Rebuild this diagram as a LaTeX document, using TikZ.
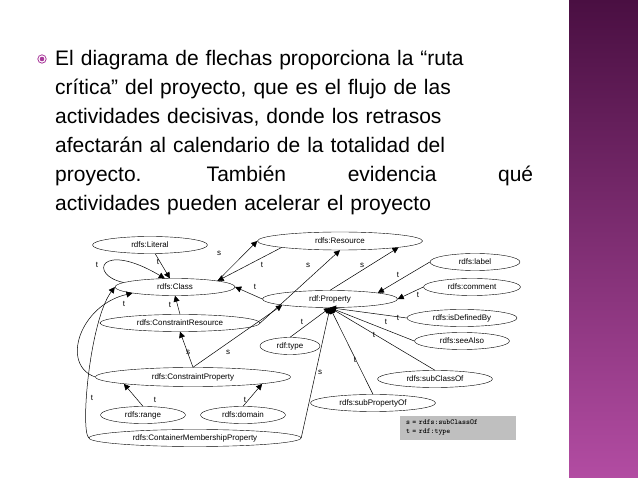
\documentclass[tikz,border=0pt]{standalone}
\usepackage{fontspec}
\setmainfont{Liberation Sans}
\usetikzlibrary{arrows.meta,shapes.geometric}
\definecolor{barTop}{HTML}{4A0F42}
\definecolor{barBot}{HTML}{B24CA2}
\definecolor{bul}{HTML}{A8389A}
\newcommand{\jl}[1]{\makebox[478pt][s]{#1}\par}
\tikzset{
  ell/.style={draw,ellipse,inner sep=0pt,font=\fontsize{8}{9}\selectfont,minimum height=17pt},
  con/.style={-{Triangle[length=6pt,width=6pt]},line width=0.5pt},
  lab/.style={font=\fontsize{8}{9}\selectfont,inner sep=0pt}
}
\begin{document}
\begin{tikzpicture}[x=1pt,y=-1pt]
\useasboundingbox (0,0) rectangle (638,478);
\shade[top color=barTop,bottom color=barBot] (569,0) rectangle (638,478);
\draw[bul,line width=0.8pt] (42,59) circle (4.2);
\fill[bul] (42,59) circle (2.3);
\node[anchor=north west,inner sep=0pt,text width=478pt,align=left,font=\fontsize{21}{29}\selectfont] (txt) at (55,50)
{\jl{El diagrama de flechas proporciona la “ruta}
\jl{crítica” del proyecto, que es el flujo de las}
\jl{actividades decisivas, donde los retrasos}
\jl{afectarán al calendario de la totalidad del}
\jl{proyecto. \hfill También \hfill evidencia \hfill qué}
actividades pueden acelerar el proyecto};
\node[ell,minimum width=115pt] (lit) at (150,245) {rdfs:Literal};
\node[ell,minimum width=165pt,minimum height=18pt] (res) at (340,241) {rdfs:Resource};
\node[ell,minimum width=120pt] (cls) at (175,287) {rdfs:Class};
\node[ell,minimum width=90pt] (lbl) at (475,262) {rdfs:label};
\node[ell,minimum width=97pt] (com) at (472,287) {rdfs:comment};
\node[ell,minimum width=135pt] (prop) at (330,299) {rdf:Property};
\node[ell,minimum width=160pt] (cr) at (180,323) {rdfs:ConstraintResource};
\node[ell,minimum width=60pt] (typ) at (290,346) {rdf:type};
\node[ell,minimum width=110pt] (idb) at (462,318) {rdfs:isDefinedBy};
\node[ell,minimum width=95pt] (see) at (462,341) {rdfs:seeAlso};
\node[ell,minimum width=195pt,minimum height=19pt] (cp) at (193,377) {rdfs:ConstraintProperty};
\node[ell,minimum width=115pt] (sco) at (435,379) {rdfs:subClassOf};
\node[ell,minimum width=125pt] (spo) at (373,403) {rdfs:subPropertyOf};
\node[ell,minimum width=85pt] (rng) at (143,415) {rdfs:range};
\node[ell,minimum width=85pt] (dom) at (243,415) {rdfs:domain};
\node[ell,minimum width=212pt] (cmp) at (195,438) {rdfs:ContainerMembershipProperty};
\node[fill=black!25,minimum width=116pt,minimum height=24pt,font=\ttfamily\fontsize{7.5}{9}\selectfont\bfseries,align=left,text width=104pt] (leg) at (458,428) {s = rdfs:subClassOf\\t = rdf:type};
% edges
\draw[con] (lit) -- (cls);
\draw[con] (cls.175) .. controls (88,275) and (100,240) .. (cls.140);
\draw[con] (cls.north east) -- (res.west);
\draw[con] (res.south west) -- (cls.north east);
\draw[con] (prop.west) -- (cls.east);
\draw[con] (cr.north) -- (cls.south);
\draw[con] (cr.east) -- (res.south);
\draw[con] (cp.north) -- (cr.south);
\draw[con] (cp.north) -- (prop.south west);
\draw[con] (cp.west) .. controls (60,365) and (80,305) .. (cls.south west);
\draw[con] (cmp.west) .. controls (80,430) and (90,320) .. (cls.west);
\draw[con] (prop.north) -- (res.south east);
\draw[con] (lbl.west) -- (prop.north east);
\draw[con] (com.west) -- (prop.east);
\draw[con] (idb.west) -- (prop.south);
\draw[con] (see.west) -- (prop.south);
\draw[con] (sco.north) -- (prop.south);
\draw[con] (spo.north) -- (prop.south);
\draw[con] (typ.north) -- (prop.south);
\draw[con] (cmp.east) -- (prop.south);
\draw[con] (rng.north) -- (cp.south west);
\draw[con] (dom.north) -- (cp.south east);
% labels
\node[lab] at (158,262) {t};
\node[lab] at (97,265) {t};
\node[lab] at (219,253) {s};
\node[lab] at (262,265) {t};
\node[lab] at (308,265) {s};
\node[lab] at (362,265) {s};
\node[lab] at (255,287) {t};
\node[lab] at (170,305) {t};
\node[lab] at (124,304) {t};
\node[lab] at (188,352) {s};
\node[lab] at (228,352) {s};
\node[lab] at (92,398) {t};
\node[lab] at (155,400) {t};
\node[lab] at (245,400) {t};
\node[lab] at (302,322) {t};
\node[lab] at (320,372) {s};
\node[lab] at (355,360) {t};
\node[lab] at (374,335) {t};
\node[lab] at (386,322) {t};
\node[lab] at (398,318) {t};
\node[lab] at (398,275) {t};
\node[lab] at (418,295) {t};
\end{tikzpicture}
\end{document}
